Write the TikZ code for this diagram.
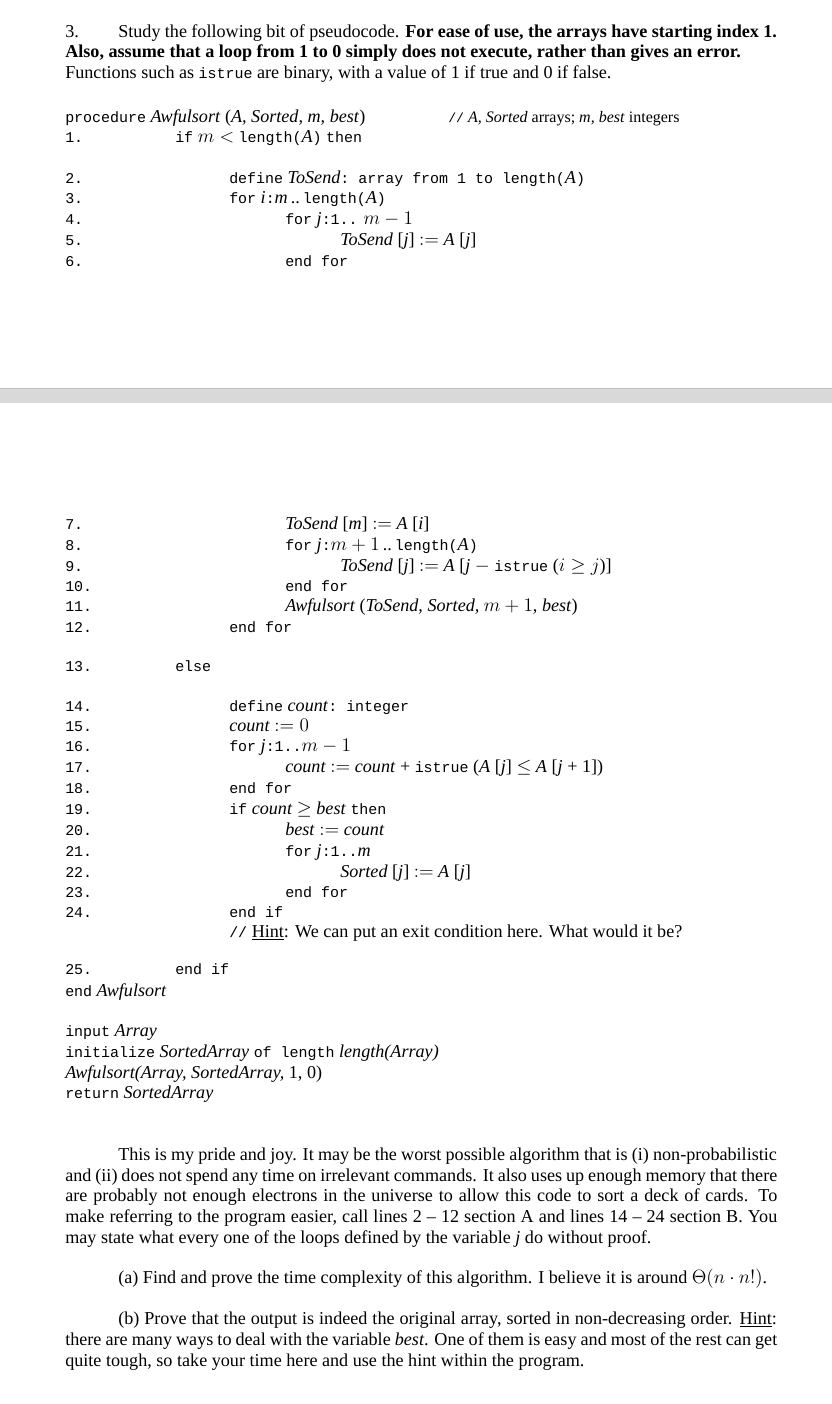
\documentclass[tikz,border=0pt]{standalone}
\usepackage{fontspec}
\setmainfont{Liberation Serif}
\setmonofont[Scale=0.825]{Liberation Mono}
\newcommand\tl[4]{\node[txt] (#1) at (#3,-#2-5) {#4};}
\newcommand\jw[2]{\makebox[#1pt][s]{#2}}
\newcommand\iv[1]{\textit{#1}}
\begin{document}
\begin{tikzpicture}[x=0.75pt,y=0.75pt,
  txt/.style={anchor=base west,inner sep=0pt,font=\fontsize{13.6}{15}\selectfont}]
\useasboundingbox (0,0) rectangle (832,-1404);
\fill[white] (0,0) rectangle (832,-1404);
\fill[gray!30] (0,-388) rectangle (832,-403);
\draw[gray!50] (0,-388) -- (832,-388);
\tl{h1a}{32}{65}{3.}
\tl{h1}{32}{118}{\jw{494}{Study the following bit of pseudocode. \textbf{For ease of use, the arrays have starting index 1.}}}
\tl{h2}{52}{65}{\textbf{Also, assume that a loop from 1 to 0 simply does not execute, rather than gives an error.}}
\tl{h3}{73}{65}{Functions such as \texttt{istrue} are binary, with a value of 1 if true and 0 if false.}
\tl{p0}{117}{65}{\texttt{procedure} \iv{Awfulsort} (\iv{A, Sorted, m, best})}
\tl{c0}{117}{448}{\fontsize{12}{13}\selectfont\texttt{//} \iv{A, Sorted} arrays; \iv{m, best} integers}
\tl{n1}{137}{65}{\texttt{1.}}\tl{t1}{137}{175}{\texttt{if} $m<$ \texttt{length(}\iv{A}\texttt{)} \texttt{then}}
\tl{n2}{178}{65}{\texttt{2.}}\tl{t2}{178}{229}{\texttt{define} \iv{ToSend}\texttt{: array from 1 to length(}\iv{A}\texttt{)}}
\tl{n3}{198}{65}{\texttt{3.}}\tl{t3}{198}{229}{\texttt{for} \iv{i}\texttt{:}\iv{m}\,..\,\texttt{length(}\iv{A}\texttt{)}}
\tl{n4}{219}{65}{\texttt{4.}}\tl{t4}{219}{285}{\texttt{for} \iv{j}\texttt{:1..} $m-1$}
\tl{n5}{240}{65}{\texttt{5.}}\tl{t5}{240}{340}{\iv{ToSend} [\iv{j}] $\mathrel{:=}$ \iv{A} [\iv{j}]}
\tl{n6}{261}{65}{\texttt{6.}}\tl{t6}{261}{285}{\texttt{end for}}
\tl{n7}{524}{65}{\texttt{7.}}\tl{t7}{524}{285}{\iv{ToSend} [\iv{m}] $\mathrel{:=}$ \iv{A} [\iv{i}]}
\tl{n8}{545}{65}{\texttt{8.}}\tl{t8}{545}{285}{\texttt{for} \iv{j}\texttt{:}$m+1$\,..\,\texttt{length(}\iv{A}\texttt{)}}
\tl{n9}{566}{65}{\texttt{9.}}\tl{t9}{566}{340}{\iv{ToSend} [\iv{j}] $\mathrel{:=}$ \iv{A} [\iv{j} $-$ \texttt{istrue} ($i\geq j$)]}
\tl{n10}{586}{65}{\texttt{10.}}\tl{t10}{586}{285}{\texttt{end for}}
\tl{n11}{606}{65}{\texttt{11.}}\tl{t11}{606}{285}{\iv{Awfulsort} (\iv{ToSend, Sorted,} $m+1$, \iv{best})}
\tl{n12}{627}{65}{\texttt{12.}}\tl{t12}{627}{229}{\texttt{end for}}
\tl{n13}{666}{65}{\texttt{13.}}\tl{t13}{666}{175}{\texttt{else}}
\tl{n14}{706}{65}{\texttt{14.}}\tl{t14}{706}{229}{\texttt{define} \iv{count}\texttt{: integer}}
\tl{n15}{726}{65}{\texttt{15.}}\tl{t15}{726}{229}{\iv{count} $\mathrel{:=}0$}
\tl{n16}{746}{65}{\texttt{16.}}\tl{t16}{746}{229}{\texttt{for} \iv{j}\texttt{:1..}$m-1$}
\tl{n17}{767}{65}{\texttt{17.}}\tl{t17}{767}{285}{\iv{count} $\mathrel{:=}$ \iv{count} + \texttt{istrue} (\iv{A} [\iv{j}] $\leq$ \iv{A} [\iv{j} + 1])}
\tl{n18}{788}{65}{\texttt{18.}}\tl{t18}{788}{229}{\texttt{end for}}
\tl{n19}{809}{65}{\texttt{19.}}\tl{t19}{809}{229}{\texttt{if} \iv{count} $\geq$ \iv{best} \texttt{then}}
\tl{n20}{830}{65}{\texttt{20.}}\tl{t20}{830}{285}{\iv{best} $\mathrel{:=}$ \iv{count}}
\tl{n21}{851}{65}{\texttt{21.}}\tl{t21}{851}{285}{\texttt{for} \iv{j}\texttt{:1..}\iv{m}}
\tl{n22}{872}{65}{\texttt{22.}}\tl{t22}{872}{340}{\iv{Sorted} [\iv{j}] $\mathrel{:=}$ \iv{A} [\iv{j}]}
\tl{n23}{892}{65}{\texttt{23.}}\tl{t23}{892}{285}{\texttt{end for}}
\tl{n24}{912}{65}{\texttt{24.}}\tl{t24}{912}{229}{\texttt{end if}}
\tl{hint}{932}{229}{\texttt{//} \underline{Hint}: We can put an exit condition here. What would it be?}
\tl{n25}{969}{65}{\texttt{25.}}\tl{t25}{969}{175}{\texttt{end if}}
\tl{e0}{991}{65}{\texttt{end} \iv{Awfulsort}}
\tl{m1}{1031}{65}{\texttt{input} \iv{Array}}
\tl{m2}{1052}{65}{\texttt{initialize} \iv{SortedArray} \texttt{of length} \iv{length(Array)}}
\tl{m3}{1073}{65}{\iv{Awfulsort(Array, SortedArray,} 1, 0)}
\tl{m4}{1093}{65}{\texttt{return} \iv{SortedArray}}
\tl{q1}{1155}{118}{\jw{494}{This is my pride and joy. It may be the worst possible algorithm that is (i) non-probabilistic}}
\tl{q2}{1176}{65}{\jw{534}{and (ii) does not spend any time on irrelevant commands. It also uses up enough memory that there}}
\tl{q3}{1196}{65}{\jw{534}{are probably not enough electrons in the universe to allow this code to sort a deck of cards. To}}
\tl{q4}{1217}{65}{\jw{534}{make referring to the program easier, call lines 2 -- 12 section A and lines 14 -- 24 section B. You}}
\tl{q5}{1238}{65}{may state what every one of the loops defined by the variable \iv{j} do without proof.}
\tl{qa}{1278}{118}{(a) Find and prove the time complexity of this algorithm. I believe it is around $\Theta(n\cdot n!)$.}
\tl{qb}{1319}{118}{\jw{494}{(b) Prove that the output is indeed the original array, sorted in non-decreasing order. \underline{Hint}:}}
\tl{qb2}{1340}{65}{\jw{534}{there are many ways to deal with the variable \iv{best}. One of them is easy and most of the rest can get}}
\tl{qb3}{1361}{65}{quite tough, so take your time here and use the hint within the program.}
\end{tikzpicture}
\end{document}
